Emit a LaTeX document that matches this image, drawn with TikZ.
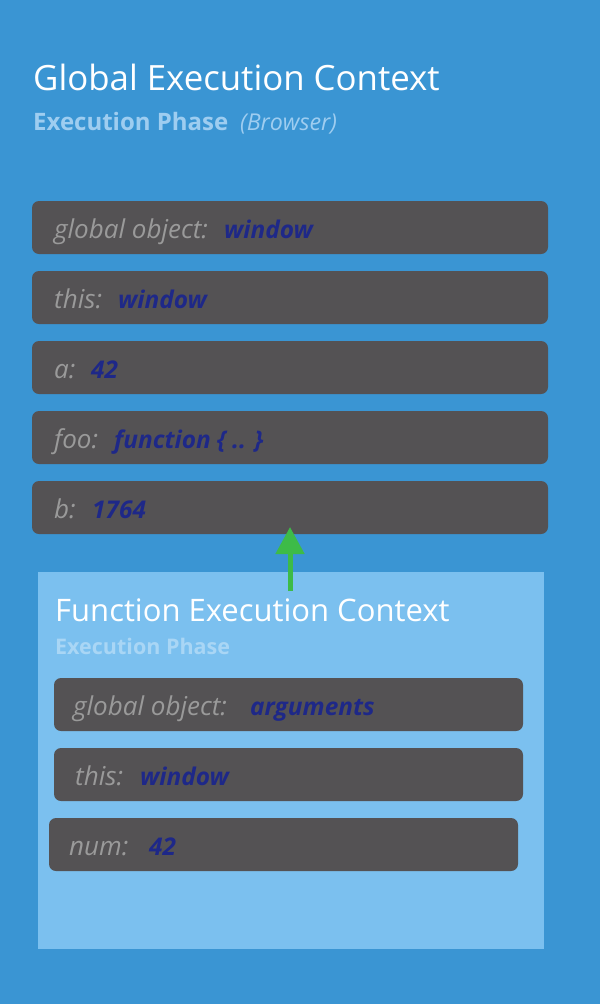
\documentclass[tikz,border=0pt]{standalone}
\usepackage{fontspec}
\setmainfont{Open Sans}
\usetikzlibrary{arrows.meta}
\definecolor{bgblue}{HTML}{3A95D3}
\definecolor{innerblue}{HTML}{7BC0EF}
\definecolor{rowgray}{HTML}{545254}
\definecolor{labgray}{HTML}{9A9A9A}
\definecolor{valnavy}{HTML}{1E2888}
\definecolor{subblue}{HTML}{9ECDF0}
\definecolor{subblue2}{HTML}{A9D6F5}
\definecolor{arrgreen}{HTML}{3DBB48}
\tikzset{
  rowbox/.style={fill=rowgray, rounded corners=7pt},
  lab/.style={anchor=base west, inner sep=0pt, text=labgray, font=\fontsize{26}{26}\selectfont\itshape},
  val/.style={anchor=base west, inner sep=0pt, text=valnavy, font=\fontsize{24.4}{24.4}\selectfont\bfseries\itshape},
  title/.style={anchor=base west, inner sep=0pt, text=white, font=\fontsize{34.8}{34.8}\selectfont},
  subtitle/.style={anchor=base west, inner sep=0pt, font=\fontsize{24}{24}\selectfont\bfseries},
}
\begin{document}
\begin{tikzpicture}[x=1pt,y=-1pt]
\fill[bgblue] (0,0) rectangle (600,1004);
\useasboundingbox (0,0) rectangle (600,1004);
\node[title] (gtitle) at (33,90) {Global Execution Context};
\node[subtitle, text=subblue] (gsub) at (33,130) {Execution Phase};
\node[anchor=base west, inner sep=0pt, text=subblue, font=\fontsize{23.2}{23.2}\selectfont\itshape] (gbrow) at (240,130) {(Browser)};
% global rows
\fill[rowbox] (32,201) rectangle (548,254);
\fill[rowbox] (32,271) rectangle (548,324);
\fill[rowbox] (32,341) rectangle (548,394);
\fill[rowbox] (32,411) rectangle (548,464);
\fill[rowbox] (32,481) rectangle (548,534);
\node[lab] (l1) at (54,238) {global object:};
\node[val] (v1) at (224,238) {window};
\node[lab] (l2) at (54,308) {this:};
\node[val] (v2) at (118,308) {window};
\node[lab] (l3) at (54,378) {a:};
\node[val] (v3) at (91,378) {42};
\node[lab] (l4) at (54,448) {foo:};
\node[val] (v4) at (114,448) {function \{ .. \}};
\node[lab] (l5) at (54,518) {b:};
\node[val] (v5) at (92,518) {1764};
% function context
\fill[innerblue] (38,572) rectangle (544,949);
\node[title, font=\fontsize{31}{31}\selectfont] (ftitle) at (55,621) {Function Execution Context};
\node[subtitle, text=subblue2, font=\fontsize{21.5}{21.5}\selectfont\bfseries] (fsub) at (55,654) {Execution Phase};
\fill[rowbox] (54,678) rectangle (523,731);
\fill[rowbox] (54,748) rectangle (523,801);
\fill[rowbox] (49,818) rectangle (518,871);
\node[lab] (fl1) at (73,715) {global object:};
\node[val] (fv1) at (250,715) {arguments};
\node[lab] (fl2) at (75,785) {this:};
\node[val] (fv2) at (140,785) {window};
\node[lab] (fl3) at (69,855) {num:};
\node[val] (fv3) at (149,855) {42};
% arrow
\coordinate (astart) at (290,591);
\coordinate (aend) at (290,527);
\draw[arrgreen, line width=5pt, -{Triangle[length=27pt,width=28pt]}] (astart) -- (aend);
\end{tikzpicture}
\end{document}
